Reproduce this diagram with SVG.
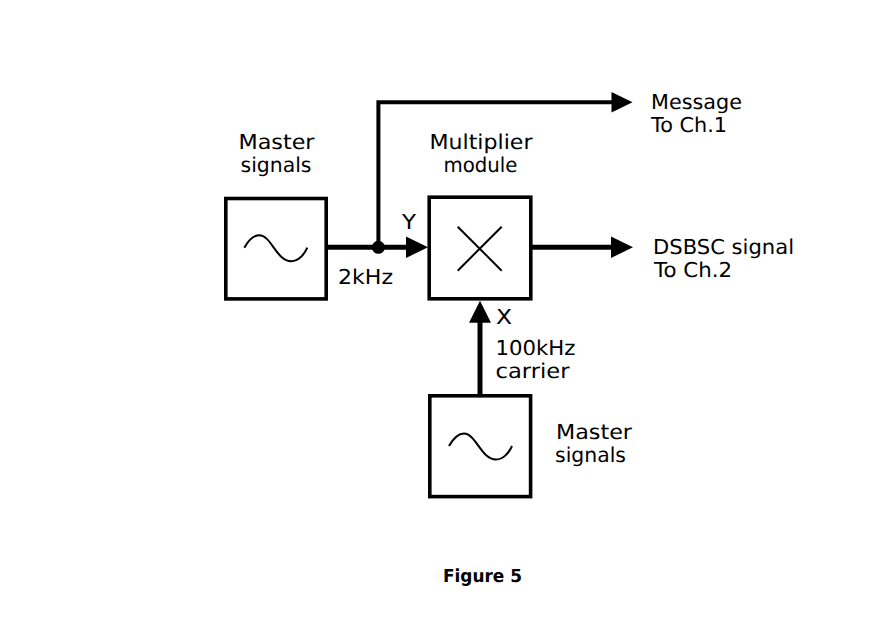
<svg xmlns="http://www.w3.org/2000/svg" width="896" height="634" viewBox="0 0 896 634">
<style>
text{font-family:"DejaVu Sans","Open Sans","Noto Sans",sans-serif;font-size:20.500px;fill:#000;text-rendering:geometricPrecision}
.box{fill:#fff;stroke:#000;stroke-width:3.6}
.sym{fill:none;stroke:#000;stroke-width:2}
.w{fill:none;stroke:#000;stroke-width:5}
.t{fill:none;stroke:#000;stroke-width:4}
.fig{font-size:18px;font-weight:700}
</style>
<defs>
<path id="sine" d="M0 0C4 -7 9 -12.500 15 -12.500C27 -12.500 32 13.500 47 13.500C54 13.500 60 7 63 0"/>
</defs>
<rect width="896" height="634" fill="#fff"/>
<g id="connectors">
<path class="w" d="M328 247.300H410"/>
<path class="t" d="M378.400 247V102.300H615"/>
<circle cx="378.400" cy="247.300" r="6.500"/>
<path d="M406 236.500L428 247.300L406 258Z"/>
<path d="M611.500 92L632.500 102.300L611.500 112.500Z"/>
<path class="w" d="M532 247.300H615"/>
<path d="M611 236.500L633 247.300L611 258Z"/>
<path class="w" d="M480 394V318"/>
<path d="M469 322.700L480 300.700L491 322.700Z"/>
</g>
<g id="source-1">
<rect class="box" x="225.800" y="198.500" width="100.400" height="100.400"/>
<use class="sym" href="#sine" x="244.300" y="247.700"/>
</g>
<g id="multiplier">
<rect class="box" x="429.200" y="197.200" width="101.600" height="101.600"/>
<path class="sym" d="M457.700 226.700L501.700 270.700M501.700 226.700L457.700 270.700"/>
</g>
<g id="source-2">
<rect class="box" x="429.800" y="395.800" width="100.800" height="100.800"/>
<use class="sym" href="#sine" x="449" y="446"/>
</g>
<g id="labels">
<text x="238.500" y="149" textLength="76" lengthAdjust="spacingAndGlyphs">Master</text>
<text x="240.500" y="172" textLength="71" lengthAdjust="spacingAndGlyphs">signals</text>
<text x="429.500" y="149" textLength="103" lengthAdjust="spacingAndGlyphs">Multiplier</text>
<text x="443.500" y="172" textLength="74" lengthAdjust="spacingAndGlyphs">module</text>
<text x="402" y="229" textLength="14" lengthAdjust="spacingAndGlyphs">Y</text>
<text x="338" y="284" textLength="55" lengthAdjust="spacingAndGlyphs">2kHz</text>
<text x="496" y="324" textLength="16" lengthAdjust="spacingAndGlyphs">X</text>
<text x="495.500" y="355" textLength="80" lengthAdjust="spacingAndGlyphs">100kHz</text>
<text x="495.500" y="378" textLength="74" lengthAdjust="spacingAndGlyphs">carrier</text>
<text x="556" y="439" textLength="76" lengthAdjust="spacingAndGlyphs">Master</text>
<text x="555" y="462" textLength="71" lengthAdjust="spacingAndGlyphs">signals</text>
<text x="651" y="109" textLength="91" lengthAdjust="spacingAndGlyphs">Message</text>
<text x="651" y="132" textLength="76" lengthAdjust="spacingAndGlyphs">To Ch.1</text>
<text x="653" y="254" textLength="141" lengthAdjust="spacingAndGlyphs">DSBSC signal</text>
<text x="654" y="277" textLength="78" lengthAdjust="spacingAndGlyphs">To Ch.2</text>
<text class="fig" x="443" y="582" textLength="79" lengthAdjust="spacingAndGlyphs">Figure 5</text>
</g>
</svg>
